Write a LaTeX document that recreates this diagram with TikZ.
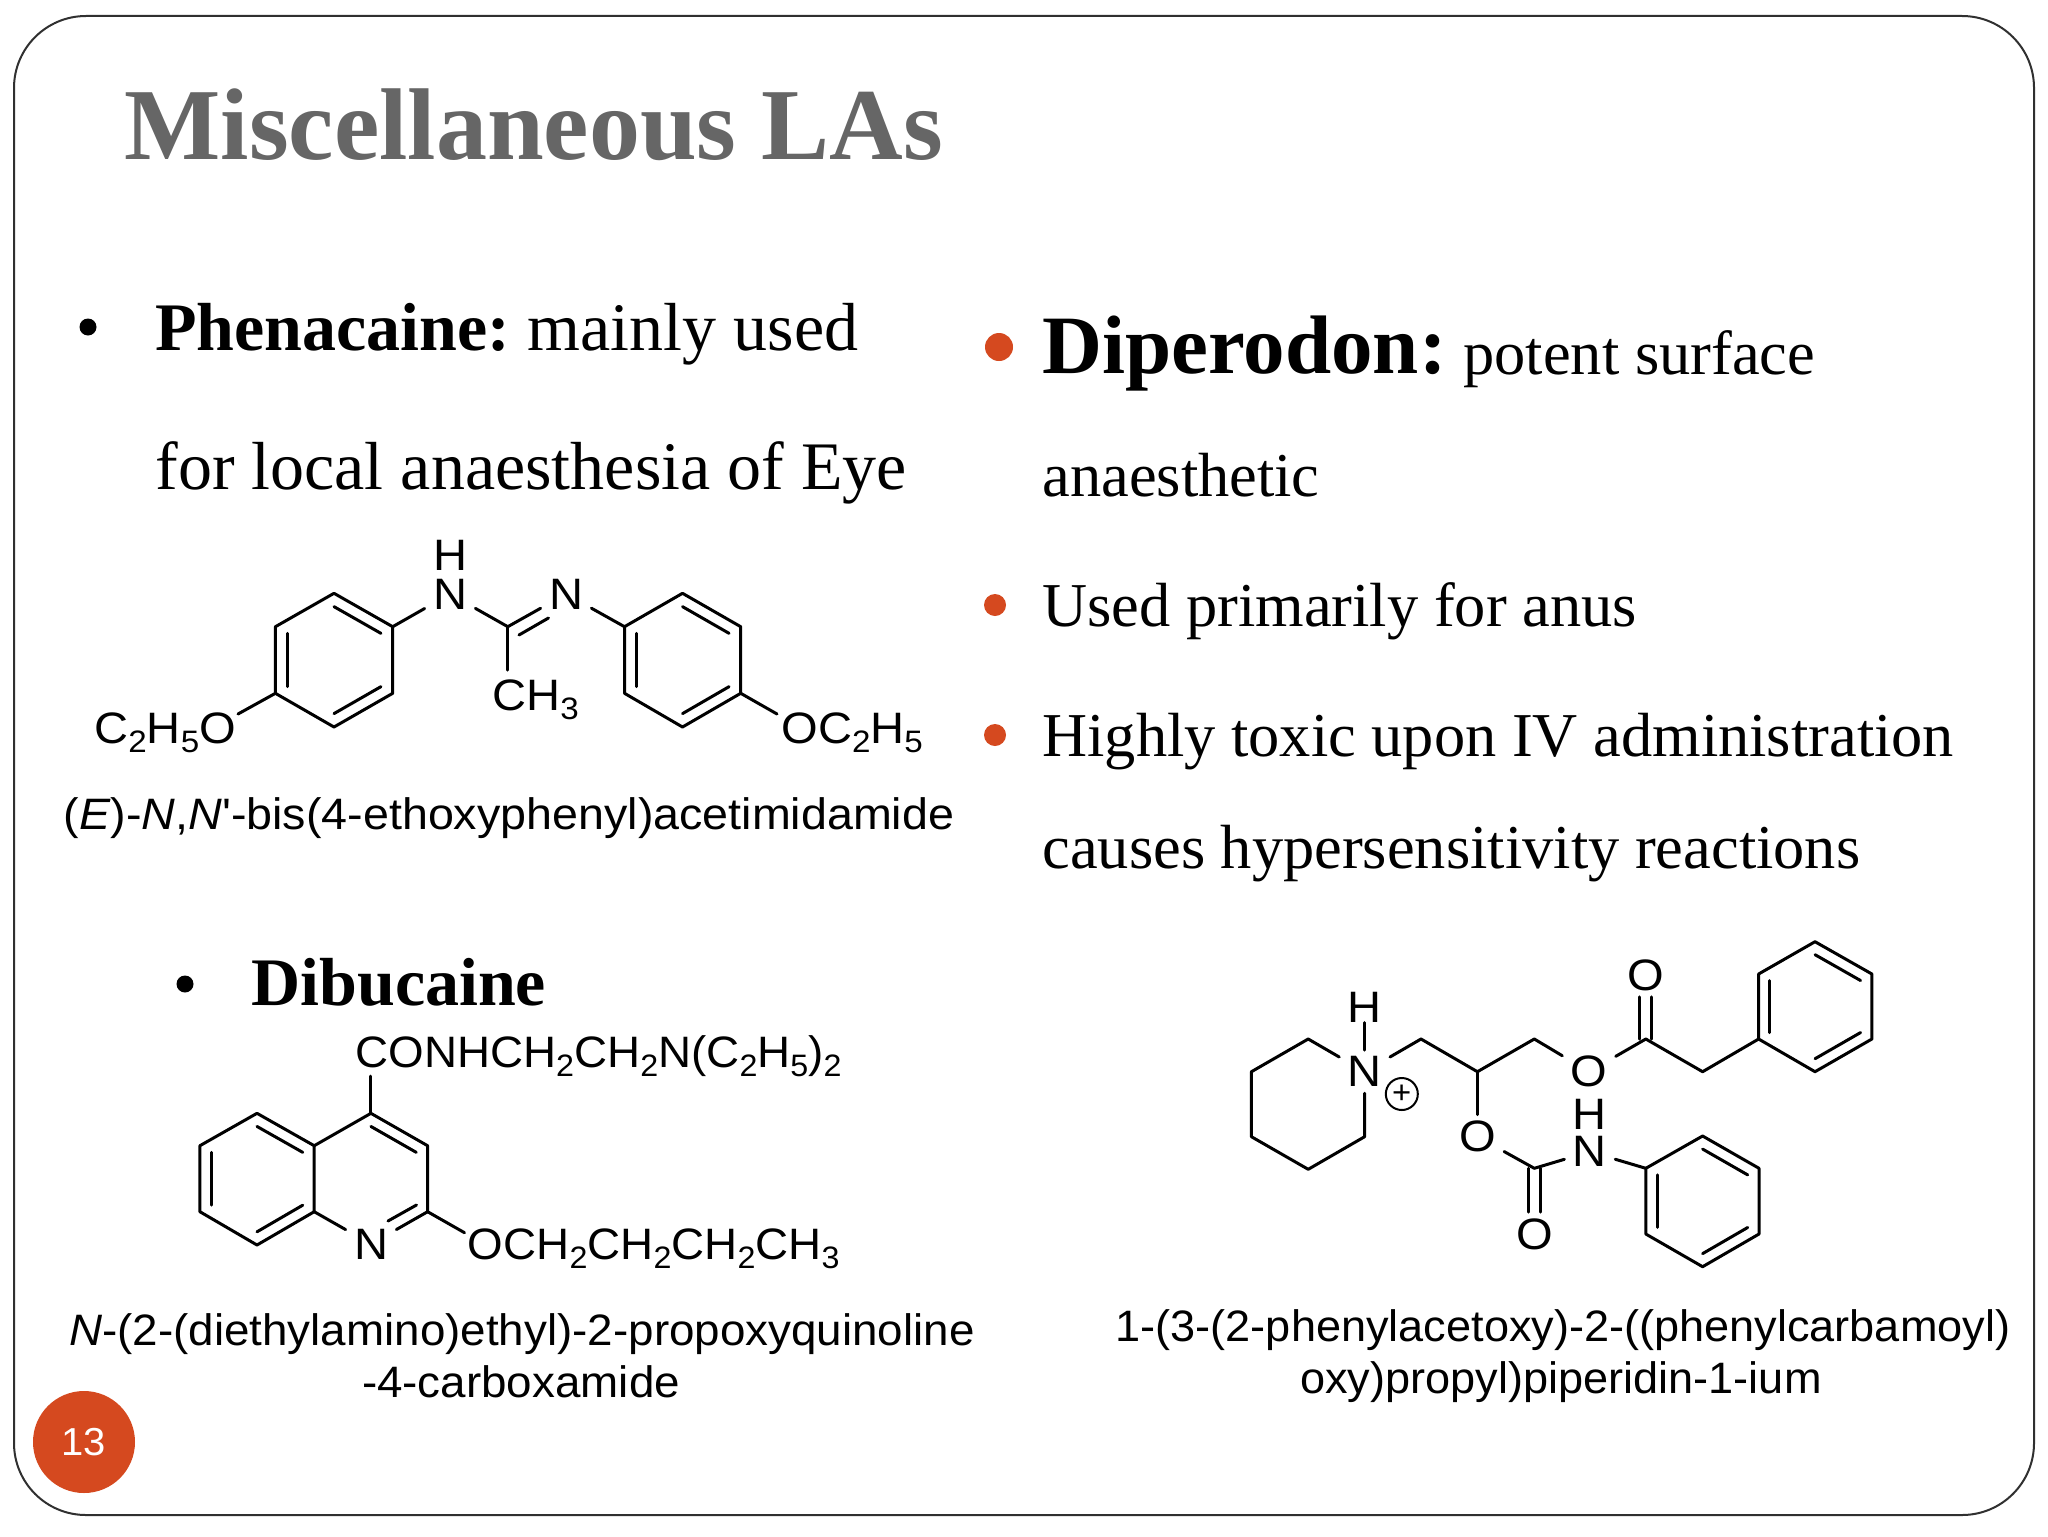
\documentclass[tikz,border=0pt]{standalone}
\usepackage{fontspec}
\setmainfont{Liberation Serif}
\newfontfamily\arialA[FakeStretch=1.07]{Liberation Sans}
\newfontfamily\arialB[FakeStretch=1.06]{Liberation Sans}
\newfontfamily\arialC[FakeStretch=1.04]{Liberation Sans}
\newfontfamily\arialD[FakeStretch=1.025]{Liberation Sans}
\usetikzlibrary{calc}
\definecolor{titlegrey}{HTML}{666666}
\definecolor{accent}{HTML}{D5491F}
\definecolor{framegrey}{HTML}{303030}
\tikzset{
  bond/.style={line width=1.5pt,line cap=round,line join=round},
  atom/.style={font=\arialA\fontsize{22}{22}\selectfont,inner xsep=4pt,inner ysep=3pt,text=black},
  hatom/.style={atom,inner sep=0pt},
  chem/.style={font=\arialA\fontsize{22}{22}\selectfont,inner sep=0pt,anchor=base west,text=black},
  iupac/.style={font=\fontsize{22}{26}\selectfont,inner sep=0pt,anchor=base,text=black},
  body/.style={font=\fontsize{31.2}{32}\selectfont,inner sep=0pt,anchor=base west,text=black},
  bodyl/.style={font=\fontsize{34}{34}\selectfont,inner sep=0pt,anchor=base west,text=black},
  bignote/.style={font=\fontsize{41.5}{42}\selectfont\bfseries,inner sep=0pt,anchor=base west,text=black},
}
\newcommand{\ib}[3]{\draw[bond] ($(#1)!.2!(#3)$) -- ($(#2)!.2!(#3)$);}
\newcommand{\sbs}[1]{\raisebox{-4.5pt}{\fontsize{15.5}{15.5}\selectfont #1}}
\begin{document}
\begin{tikzpicture}[x=0.5pt,y=-0.5pt]
\useasboundingbox (0,0) rectangle (2048,1536);
\fill[white] (0,0) rectangle (2048,1536);
\draw[framegrey,line width=1pt,rounded corners=36pt] (14,16) rectangle (2034,1515);

\node[font=\fontsize{51}{51}\selectfont\bfseries,text=titlegrey,inner sep=0pt,anchor=base west] (title) at (124,159) {Miscellaneous LAs};

% left text
\node[circle,fill=black,inner sep=0pt,minimum size=8.5pt] (b1) at (88,327) {};
\node[bodyl] (t1) at (155,350) {\textbf{Phenacaine:}\hspace{-2.7pt} mainly used};
\node[bodyl] (t2) at (155,489) {for local anaesthesia of Eye};
\node[circle,fill=black,inner sep=0pt,minimum size=8.5pt] (b2) at (185,984) {};
\node[bodyl] (t3) at (251,1005.5) {\textbf{Dibucaine}};

% right text
\node[circle,fill=accent,inner sep=0pt,minimum size=14pt] (b3) at (999,347) {};
\node[bignote] (t4) at (1042,373) {Diperodon:};
\node[body] (t5) at (1463,374) {potent surface};
\node[body] (t6) at (1042,496) {anaesthetic};
\node[circle,fill=accent,inner sep=0pt,minimum size=11pt] (b4) at (995,605) {};
\node[body] (t7) at (1042,626) {Used primarily for anus};
\node[circle,fill=accent,inner sep=0pt,minimum size=11pt] (b5) at (995,735) {};
\node[body] (t8) at (1042,756) {Highly toxic upon IV administration};
\node[body] (t9) at (1042,868) {causes hypersensitivity reactions};

% page number
\node[circle,fill=accent,minimum size=51pt,inner sep=0pt,text=white,font=\arialD\fontsize{19.5}{19.5}\selectfont] (pg) at (84,1442) {13};

% ---------- Phenacaine
\coordinate (pa1) at (334,593.3); \coordinate (pa2) at (392.7,626.7); \coordinate (pa3) at (392.7,693.3);
\coordinate (pa4) at (334,727); \coordinate (pa5) at (275.4,693.3); \coordinate (pa6) at (275.4,626.7);
\coordinate (pac) at (334,660);
\coordinate (pb1) at (682.5,593.3); \coordinate (pb2) at (740.7,626.7); \coordinate (pb3) at (740.7,693.3);
\coordinate (pb4) at (682.5,727); \coordinate (pb5) at (624.5,693.3); \coordinate (pb6) at (624.5,626.7);
\coordinate (pbc) at (682.6,660);
\coordinate (pc) at (507.8,626.7);
\node[atom] (pn1) at (450,594) {N};
\node[hatom] (ph1) at (450,555) {H};
\node[atom] (pn2) at (566,594) {N};
\node[chem] (pch3) at (492,710) {CH\sbs{3}};
\coordinate (pch3t) at (507.8,670);
\node[chem] (peL) at (94,743) {C\sbs{2}H\sbs{5}O};
\node[chem] (peR) at (781,743) {OC\sbs{2}H\sbs{5}};
\coordinate (peLe) at (238,714); \coordinate (peRe) at (777,714);
\draw[bond] (pa1)--(pa2)--(pa3)--(pa4)--(pa5)--(pa6)--cycle;
\draw[bond] (pb1)--(pb2)--(pb3)--(pb4)--(pb5)--(pb6)--cycle;
\ib{pa1}{pa2}{pac}\ib{pa3}{pa4}{pac}\ib{pa5}{pa6}{pac}
\ib{pb1}{pb2}{pbc}\ib{pb3}{pb4}{pbc}\ib{pb5}{pb6}{pbc}
\draw[bond] (pa2)--(pn1);
\draw[bond] (pn1)--(pc);
\draw[bond] (pc)--(pn2);
\coordinate (pdb1) at (519,635); \coordinate (pdb2) at (548.5,618);
\draw[bond] (pdb1)--(pdb2);
\draw[bond] (pn2)--(pb6);
\draw[bond] (pc)--(pch3t);
\draw[bond] (pa5)--(peLe);
\draw[bond] (pb3)--(peRe);
\node[iupac,font=\arialB\fontsize{22}{26}\selectfont] (pname) at (509,829) {(\textit{E})-\textit{N},\textit{N}'-bis(4-ethoxyphenyl)acetimidamide};

% ---------- Dibucaine
\coordinate (d4) at (370.9,1113.3); \coordinate (d3) at (427.6,1145.7); \coordinate (d2) at (427.6,1211.7);
\coordinate (d8a) at (314.2,1211.7); \coordinate (d4a) at (314.2,1145.7); \coordinate (d5) at (257,1113.3);
\coordinate (d6) at (199.9,1145.7); \coordinate (d7) at (199.9,1211.7); \coordinate (d8) at (257,1245);
\coordinate (dpc) at (370.9,1179); \coordinate (dbc) at (257,1179);
\node[atom] (dn) at (371,1244) {N};
\node[chem,font=\arialC\fontsize{22}{22}\selectfont] (dtop) at (355,1067.3) {CONHCH\sbs{2}CH\sbs{2}N(C\sbs{2}H\sbs{5})\sbs{2}};
\node[chem,font=\arialC\fontsize{22}{22}\selectfont] (dlow) at (467.5,1259.3) {OCH\sbs{2}CH\sbs{2}CH\sbs{2}CH\sbs{3}};
\coordinate (dtope) at (370.9,1076); \coordinate (dlowe) at (464.5,1232.7);
\draw[bond] (d5)--(d4a)--(d8a)--(d8)--(d7)--(d6)--cycle;
\draw[bond] (d4a)--(d4)--(d3)--(d2);
\draw[bond] (d8a)--(dn);
\draw[bond] (dn)--(d2);
\coordinate (ddb1) at (416.5,1205); \coordinate (ddb2) at (388,1221);
\draw[bond] (ddb1)--(ddb2);
\ib{d4}{d3}{dpc}\ib{d5}{d4a}{dbc}\ib{d6}{d7}{dbc}\ib{d8}{d8a}{dbc}
\draw[bond] (d4)--(dtope);
\draw[bond] (d2)--(dlowe);
\node[iupac,font=\arialC\fontsize{22}{26}\selectfont] (dname1) at (522,1345) {\textit{N}-(2-(diethylamino)ethyl)-2-propoxyquinoline};
\node[iupac,font=\arialC\fontsize{22}{26}\selectfont] (dname2) at (521,1397) {-4-carboxamide};

% ---------- Diperodon
\node[atom] (en) at (1364.6,1071.7) {N};
\node[hatom] (eh) at (1364.6,1007) {H};
\coordinate (e1) at (1308.2,1039); \coordinate (e2) at (1251.4,1071.7); \coordinate (e3) at (1251.4,1136.7);
\coordinate (e4) at (1308.2,1169.3); \coordinate (e5) at (1364.6,1136.7);
\coordinate (c1) at (1421,1039); \coordinate (c2) at (1477.4,1071.7); \coordinate (c3) at (1534.3,1039);
\node[atom] (o1) at (1589,1071.7) {O};
\coordinate (c4) at (1645.8,1039);
\node[atom] (o2) at (1645.8,975) {O};
\coordinate (c5) at (1702.6,1071.7);
\coordinate (r1) at (1758.6,1039); \coordinate (r2) at (1758.6,974); \coordinate (r3) at (1815,941.7);
\coordinate (r4) at (1871.9,974); \coordinate (r5) at (1871.9,1039); \coordinate (r6) at (1815,1071.7);
\coordinate (rc) at (1815.2,1006.7);
\node[atom] (o3) at (1477.4,1136.7) {O};
\coordinate (c6) at (1534.3,1168.3);
\node[atom] (o4) at (1534.3,1234) {O};
\node[atom,inner ysep=2.5pt] (n2) at (1589.8,1151.7) {N};
\node[hatom] (h2) at (1589.8,1114) {H};
\coordinate (s1) at (1645.8,1168.3); \coordinate (s2) at (1702.6,1136); \coordinate (s3) at (1759,1168.3);
\coordinate (s4) at (1759,1234); \coordinate (s5) at (1702.6,1266.7); \coordinate (s6) at (1645.8,1234);
\coordinate (sc) at (1702.5,1201.3);
\node[circle,draw=black,line width=1pt,minimum size=16pt,inner sep=0pt,font=\arialD\fontsize{16}{16}\selectfont] (plus) at (1401.8,1094) {+};
\draw[bond] (en)--(e1)--(e2)--(e3)--(e4)--(e5)--(en);
\draw[bond] (en)--(eh);
\draw[bond] (en)--(c1)--(c2)--(c3)--(o1);
\draw[bond] (o1)--(c4)--(c5)--(r1);
\draw[bond] (r1)--(r2)--(r3)--(r4)--(r5)--(r6)--cycle;
\ib{r1}{r2}{rc}\ib{r3}{r4}{rc}\ib{r5}{r6}{rc}
\draw[bond] ([xshift=-3pt]c4)--([xshift=-3pt]o2.south);
\draw[bond] ([xshift=3pt]c4)--([xshift=3pt]o2.south);
\draw[bond] (c2)--(o3);
\draw[bond] (o3)--(c6)--(n2);
\draw[bond] ([xshift=-3pt]c6)--([xshift=-3pt]o4.north);
\draw[bond] ([xshift=3pt]c6)--([xshift=3pt]o4.north);
\draw[bond] (n2)--(s1);
\draw[bond] (s1)--(s2)--(s3)--(s4)--(s5)--(s6)--cycle;
\ib{s1}{s6}{sc}\ib{s2}{s3}{sc}\ib{s4}{s5}{sc}
\node[iupac,font=\arialD\fontsize{22}{26}\selectfont] (ename1) at (1563,1341) {1-(3-(2-phenylacetoxy)-2-((phenylcarbamoyl)};
\node[iupac,font=\arialD\fontsize{22}{26}\selectfont] (ename2) at (1561,1393) {oxy)propyl)piperidin-1-ium};
\end{tikzpicture}
\end{document}
